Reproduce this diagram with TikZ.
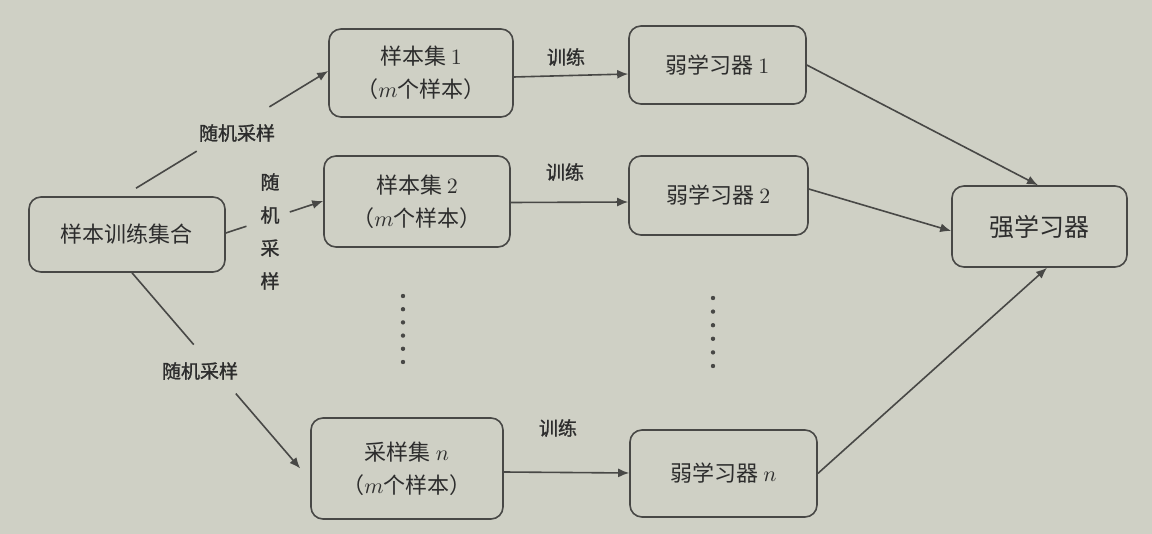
\documentclass[tikz,border=0pt]{standalone}
\usepackage{fontspec}
\newfontfamily\cjkfont{Noto Sans CJK SC}
\newfontfamily\cjklab{Noto Sans CJK SC}[FakeBold=1.2]
\usetikzlibrary{arrows.meta,calc}
\definecolor{paper}{RGB}{207,208,197}
\definecolor{ink}{RGB}{72,72,70}
\definecolor{txt}{RGB}{45,45,45}
\tikzset{
  box/.style={draw=ink, line width=0.8pt, rounded corners=6pt, fill=paper, text=txt,
    font=\cjkfont\fontsize{11}{16.5}\selectfont, align=center, inner sep=0pt},
  lab/.style={text=txt, font=\cjklab\fontsize{9.5}{11}\selectfont, inner sep=1pt},
  vlab/.style={lab, align=center, font=\cjklab\fontsize{9.5}{16.5}\selectfont},
  conn/.style={draw=ink, line width=0.8pt, -{Latex[length=5.5pt,width=4.5pt]}},
  seg/.style={draw=ink, line width=0.8pt},
}
\begin{document}
\begin{tikzpicture}[x=0.5pt,y=-0.5pt]
\fill[paper] (0,0) rectangle (1152,534);
\useasboundingbox (0,0) rectangle (1152,534);

% nodes
\node[box, minimum width=98pt, minimum height=37.5pt] (src) at (127,234.5) {样本训练集合};
\node[box, minimum width=92pt, minimum height=44pt] (s1) at (421,73) {样本集 $1$\\（$m$个样本）};
\node[box, minimum width=93pt, minimum height=45.5pt] (s2) at (417,201.5) {样本集 $2$\\（$m$个样本）};
\node[box, minimum width=96pt, minimum height=50.5pt] (sn) at (407,468.5) {采样集 $n$\\（$m$个样本）};
\node[box, minimum width=88.5pt, minimum height=39pt] (w1) at (717.5,65) {弱学习器 $1$};
\node[box, minimum width=89.5pt, minimum height=39.5pt] (w2) at (718.5,195.5) {弱学习器 $2$};
\node[box, minimum width=93.5pt, minimum height=43.5pt] (wn) at (723.5,473.5) {弱学习器 $n$};
\node[box, minimum width=87.5pt, minimum height=40.5pt, font=\cjkfont\fontsize{12.5}{15}\selectfont] (st) at (1039.5,226.5) {强学习器};

% sampling connectors (with gaps for labels)
\path ($(src.north)+(9,-8)$) coordinate (a1) -- coordinate[pos=0.316] (g1a) coordinate[pos=0.694] (g1b) ($(s1.west)+(0,-2)$) coordinate (b1);
\draw[seg] (a1) -- (g1a);
\draw[conn] (g1b) -- (b1);

\path ($(src.east)+(0,-1.5)$) coordinate (a2) -- coordinate[pos=0.212] (g2a) coordinate[pos=0.657] (g2b) ($(s2.west)+(0,-0.5)$) coordinate (b2);
\draw[seg] (a2) -- (g2a);
\draw[conn] (g2b) -- (b2);

\path ($(src.south)+(5,0)$) coordinate (a3) -- coordinate[pos=0.367] (g3a) coordinate[pos=0.617] (g3b) ($(sn.west)+(-10,0)$) coordinate (b3);
\draw[seg] (a3) -- (g3a);
\draw[conn] (g3b) -- (b3);

\node[lab] (l1) at (237,133) {随机采样};
\node[vlab] (l2) at (270,231.5) {随\\机\\采\\样};
\node[lab] (l3) at (200,371) {随机采样};

% training connectors
\draw[conn] ($(s1.east)+(0,4)$) -- ($(w1.west)+(0,9)$);
\draw[conn] ($(s2.east)+(0,1)$) -- ($(w2.west)+(0,6.5)$);
\draw[conn] ($(sn.east)+(0,3.5)$) -- ($(wn.west)+(0,-0.5)$);
\node[lab] (t1) at (566,57) {训练};
\node[lab] (t2) at (565,172) {训练};
\node[lab] (t3) at (558,428) {训练};

% to strong learner
\draw[conn] (w1.east) -- ($(st.north)+(-1.5,0)$);
\draw[conn] ($(w2.east)+(0,-6.5)$) -- ($(st.west)+(0,4.5)$);
\draw[conn] (wn.east) -- ($(st.south)+(7.5,0)$);

% vertical dots
\foreach \i in {0,...,5} {
  \fill[ink] (403,296+13.2*\i) circle (1.1pt);
  \fill[ink] (713,298+13.6*\i) circle (1.1pt);
}
\end{tikzpicture}
\end{document}
